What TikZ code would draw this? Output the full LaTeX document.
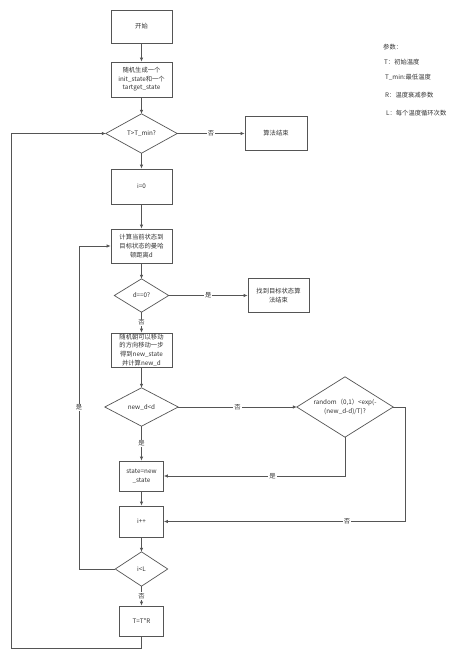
\documentclass[tikz,border=0pt]{standalone}
\usepackage{fontspec}
\setmainfont{Noto Sans CJK SC}
\usetikzlibrary{arrows.meta}
\definecolor{ln}{HTML}{555555}
\definecolor{tx}{HTML}{333333}
\tikzset{
  x=1pt, y=-1pt,
  every node/.style={font=\fontsize{6.3}{8.6}\selectfont, text=tx},
  box/.style={draw=ln, line width=0.7pt, rectangle, inner sep=0pt, align=center},
  dia/.style={rectangle, inner sep=0pt, align=center},
  conn/.style={draw=ln, line width=0.7pt, -{Latex[length=4pt,width=3.5pt]}},
  lab/.style={fill=white, inner sep=1pt},
  note/.style={anchor=west, inner sep=0pt}
}
\newcommand{\dshape}[1]{\draw[ln, line width=0.7pt] (#1.north) -- (#1.east) -- (#1.south) -- (#1.west) -- cycle;}
\begin{document}
\begin{tikzpicture}
\useasboundingbox (0,0) rectangle (474,659);
\fill[white] (0,0) rectangle (474,659);

\node[box, minimum width=61pt, minimum height=33pt] (start) at (141.5,26.5) {开始};
\node[box, minimum width=61pt, minimum height=35pt] (init) at (141.5,79.5) {随机生成一个\\init\_state和一个\\tartget\_state};
\node[dia, minimum width=71pt, minimum height=39pt] (c1) at (141.5,133.5) {T>T\_min?};
\dshape{c1}
\node[box, minimum width=62pt, minimum height=34pt] (end1) at (276,133.5) {算法结束};
\node[box, minimum width=61pt, minimum height=35pt] (i0) at (141.5,186.5) {i=0};
\node[box, minimum width=61pt, minimum height=34pt] (calc) at (141.5,246) {计算当前状态到\\目标状态的曼哈\\顿距离d};
\node[dia, minimum width=54pt, minimum height=33pt] (c2) at (141.5,295.5) {d==0?};
\dshape{c2}
\node[box, minimum width=61pt, minimum height=34pt] (found) at (278.5,295.5) {找到目标状态算\\法结束};
\node[box, minimum width=61pt, minimum height=34pt] (move) at (141.5,350) {随机朝可以移动\\的方向移动一步\\得到new\_state\\并计算new\_d};
\node[dia, minimum width=73pt, minimum height=38pt] (c3) at (141.5,407) {new\_d<d};
\dshape{c3}
\node[dia, minimum width=96pt, minimum height=60pt] (c4) at (345,407) {random（0,1）<exp(-\\(new\_d-d)/T)?};
\dshape{c4}
\node[box, minimum width=44pt, minimum height=30pt] (st) at (141.5,476) {state=new\\\_state};
\node[box, minimum width=44pt, minimum height=31pt] (ipp) at (141.5,521.5) {i++};
\node[dia, minimum width=52pt, minimum height=34pt] (c5) at (141.5,569) {i<L};
\dshape{c5}
\node[box, minimum width=44pt, minimum height=30pt] (tr) at (141.5,621) {T=T*R};

\node[note] (p0) at (383,47) {参数：};
\node[note] (p1) at (384,62) {T：初始温度};
\node[note] (p2) at (385,77) {T\_min:最低温度};
\node[note] (p3) at (385,95) {R：温度衰减参数};
\node[note] (p4) at (386,113) {L：每个温度循环次数};

\coordinate (k1) at (405,407);
\coordinate (k2) at (79,569);
\coordinate (k3) at (141.5,648);
\coordinate (k4) at (11,648);
\coordinate (k5) at (11,133.5);

\draw[conn] (start) -- (init);
\draw[conn] (init) -- (c1.north);
\draw[conn] (c1.east) -- node[lab] {否} (end1);
\draw[conn] (c1.south) -- (i0);
\draw[conn] (i0) -- (calc);
\draw[conn] (calc) -- (c2.north);
\draw[conn] (c2.east) -- node[lab] {是} (found);
\draw[conn] (c2.south) -- node[lab] {否} (move);
\draw[conn] (move) -- (c3.north);
\draw[conn] (c3.east) -- node[lab] {否} (c4.west);
\draw[conn] (c3.south) -- node[lab] {是} (st);
\draw[conn] (c4.south) |- node[lab, pos=0.7] {是} (st.east);
\draw[conn] (c4.east) -- (k1) |- node[lab, pos=0.62] {否} (ipp.east);
\draw[conn] (st) -- (ipp);
\draw[conn] (ipp) -- (c5.north);
\draw[conn] (c5.west) -- (k2) |- node[lab, pos=0.25] {是} (calc.west);
\draw[conn] (c5.south) -- node[lab] {否} (tr);
\draw[conn] (tr.south) -- (k3) -- (k4) -- (k5) -- (c1.west);
\end{tikzpicture}
\end{document}
